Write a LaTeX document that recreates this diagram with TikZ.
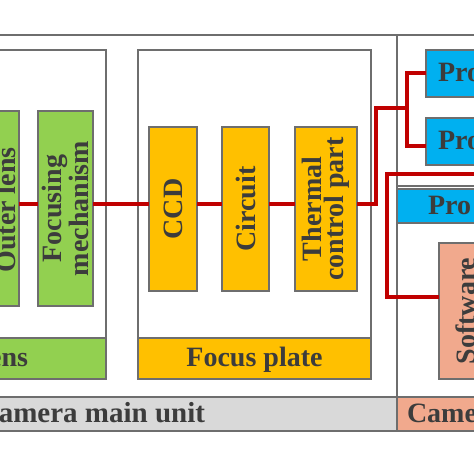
\documentclass[tikz,border=0pt]{standalone}
\usepackage{fontspec}
\setmainfont{Liberation Serif}
\definecolor{gborder}{HTML}{6E6E6E}
\definecolor{lgreen}{HTML}{92D050}
\definecolor{orng}{HTML}{FFC000}
\definecolor{lblue}{HTML}{00B0F0}
\definecolor{salmon}{HTML}{F1A98D}
\definecolor{lgray}{HTML}{D9D9D9}
\definecolor{dred}{HTML}{C00000}
\definecolor{txt}{HTML}{3C3C3C}
\begin{document}
\begin{tikzpicture}[x=1pt,y=1pt,
  box/.style={draw=gborder, line width=1.2pt, inner sep=0pt, outer sep=0pt,
    font=\fontsize{28}{22}\selectfont\bfseries, text=txt, align=center},
  framebox/.style={box, fill=white},
  gbox/.style={box, fill=lgreen},
  obox/.style={box, fill=orng},
  bbox/.style={box, fill=lblue},
  sbox/.style={box, fill=salmon},
  graybar/.style={box, fill=lgray},
  lbl/.style={inner sep=0pt, outer sep=0pt, font=\fontsize{28}{22}\selectfont\bfseries, text=txt},
  wire/.style={draw=dred, line width=4pt}]
\useasboundingbox (0,0) rectangle (474,474);
\clip (0,0) rectangle (474,474);
\fill[white] (0,0) rectangle (474,474);

% outer frames
\node[framebox, minimum width=497, minimum height=396] (mainframe) at (148.5,241) {};
\node[framebox, minimum width=203, minimum height=396] (camframe) at (498.5,241) {};
\node[graybar, minimum width=497, minimum height=34] (mainbar) at (148.5,60) {};
\node[sbox, minimum width=203, minimum height=34] (cambar) at (498.5,60) {};
\node[lbl, font=\fontsize{29}{22}\selectfont\bfseries, anchor=base east] (tmain) at (205,51) {Camera main unit};
\node[lbl, anchor=base west] (tcam) at (407,51) {Camera};

% lens group
\node[framebox, minimum width=206, minimum height=329] (lensframe) at (3,259.5) {};
\node[gbox, minimum width=206, minimum height=41] (lensbar) at (3,115.5) {};
\node[lbl, anchor=base east] (tlens) at (28,107) {Lens};
\node[gbox, rotate=90, minimum width=195, minimum height=55] (outer) at (-8.5,265.5) {};
\node[lbl, rotate=90, anchor=base] (touter) at (15,264) {Outer lens};
\node[gbox, rotate=90, minimum width=195, minimum height=55] (focus) at (65.5,265.5) {Focusing\\mechanism};

% focus plate group
\node[framebox, minimum width=233, minimum height=329] (fpframe) at (254.5,259.5) {};
\node[obox, minimum width=233, minimum height=41] (fpbar) at (254.5,115.5) {};
\node[lbl, anchor=base] (tfp) at (254.5,107) {Focus plate};
\node[obox, rotate=90, minimum width=164, minimum height=48] (ccd) at (173,265) {CCD};
\node[obox, rotate=90, minimum width=164, minimum height=47] (circuit) at (245.5,265) {Circuit};
\node[obox, rotate=90, minimum width=164, minimum height=62] (thermal) at (326,265) {Thermal\\control part};

% right group
\node[bbox, minimum width=134, minimum height=47] (pro1) at (493,400.5) {};
\node[lbl, anchor=base west] (tpro1) at (438,392) {Pro};
\node[bbox, minimum width=134, minimum height=47] (pro2) at (493,332.5) {};
\node[lbl, anchor=base west] (tpro2) at (438,324) {Pro};
\node[framebox, minimum width=203, minimum height=211] (swframe) at (498.5,182.5) {};
\node[bbox, minimum width=203, minimum height=34] (pro3) at (498.5,268) {};
\node[lbl, anchor=base west] (tpro3) at (428,259) {Pro};
\node[sbox, minimum width=161, minimum height=136] (software) at (519.5,163) {};
\node[lbl, rotate=90, anchor=base] (tsoft) at (475,163) {Software};

% connectors
\coordinate (wy) at (0,270);
\coordinate (j1) at (376,366);
\coordinate (j2) at (407,366);
\coordinate (p2y) at (0,328);
\coordinate (rin) at (480,300);
\coordinate (k) at (387,300);
\coordinate (swy) at (0,177);
\draw[wire] (outer.south |- wy) -- (focus.north |- wy);
\draw[wire] (focus.south |- wy) -- (ccd.north |- wy);
\draw[wire] (ccd.south |- wy) -- (circuit.north |- wy);
\draw[wire] (circuit.south |- wy) -- (thermal.north |- wy);
\draw[wire] (thermal.south |- wy) -| (j1) -- (j2);
\draw[wire] (pro1.west) -| (j2) |- (pro2.west |- p2y);
\draw[wire] (rin) -- (k) |- (software.west |- swy);
\end{tikzpicture}
\end{document}
